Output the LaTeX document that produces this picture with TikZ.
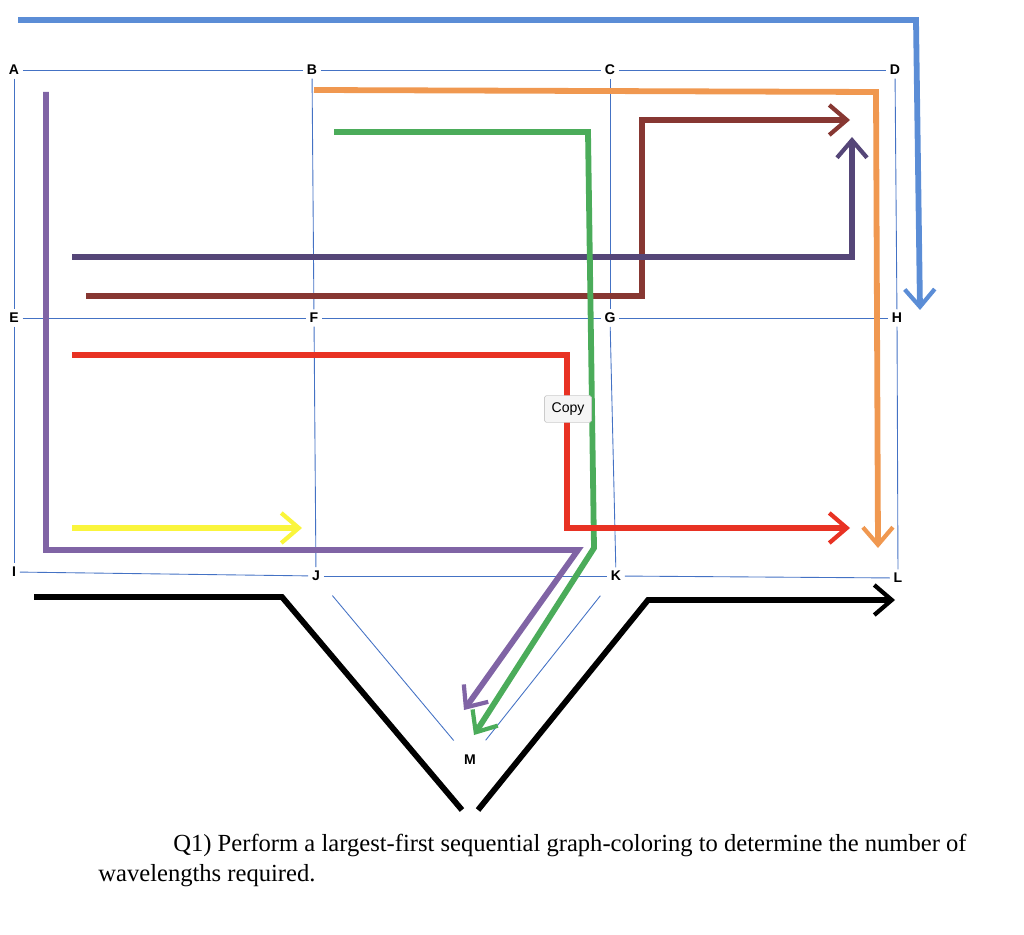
\documentclass[tikz,border=0pt]{standalone}
\usepackage{fontspec}
\setmainfont{Liberation Serif}
\newfontfamily\lblfont{Liberation Sans}
\usetikzlibrary{arrows.meta}
\definecolor{linkblue}{RGB}{68,114,196}
\definecolor{topblue}{RGB}{91,141,214}
\definecolor{routeorange}{RGB}{240,152,80}
\definecolor{routebrown}{RGB}{135,55,50}
\definecolor{routedpurple}{RGB}{85,70,120}
\definecolor{routegreen}{RGB}{75,172,90}
\definecolor{routered}{RGB}{232,50,35}
\definecolor{routeyellow}{RGB}{250,245,60}
\definecolor{routepurple}{RGB}{128,100,165}
\tikzset{
  site/.style={fill=white,inner sep=2pt,font=\lblfont\bfseries\footnotesize},
  link/.style={linkblue,line width=0.5pt},
  route/.style={line width=3.3pt,-{Straight Barb[length=3.5mm,width=6mm,line width=2.4pt]}},
}
\begin{document}
\begin{tikzpicture}[x=0.02cm,y=-0.02cm]
  \useasboundingbox (0,0) rectangle (1024,935);
  % Sites
  \node[site] (A) at (14,70) {A};
  \node[site] (B) at (312,70) {B};
  \node[site] (C) at (610,70) {C};
  \node[site] (D) at (895,70) {D};
  \node[site] (E) at (14,318) {E};
  \node[site] (F) at (314,318) {F};
  \node[site] (G) at (610,318) {G};
  \node[site] (H) at (897,318) {H};
  \node[site] (I) at (14,572) {I};
  \node[site] (J) at (316,576) {J};
  \node[site] (K) at (616,576) {K};
  \node[site] (L) at (898,578) {L};
  \node[site] (M) at (470,760) {M};
  % Links
  \foreach \u/\v in {A/B,B/C,C/D,A/E,B/F,C/G,D/H,E/F,F/G,G/H,E/I,F/J,G/K,H/L,I/J,J/K,K/L}
    \draw[link] (\u) -- (\v);
  \draw[link,shorten <=8pt,shorten >=8pt] (J) -- (M);
  \draw[link,shorten <=8pt,shorten >=8pt] (K) -- (M);
  % Routes
  \draw[route,topblue] (18,20) -- (916,20) -- (920,310);
  \draw[route,routeorange] (314,90) -- (876,92) -- (878,548);
  \draw[route,routebrown] (86,296) -- (642,296) -- (642,120) -- (850,120);
  \draw[route,routedpurple] (72,257) -- (852,257) -- (852,137);
  \draw[route,routegreen] (334,132) -- (588,132) -- (594,548) -- (474,735);
  \draw[route,routered] (72,355) -- (567,355) -- (567,528) -- (850,528);
  \draw[route,routeyellow] (72,528) -- (302,528);
  \draw[route,routepurple] (46,92) -- (46,550) -- (578,550) -- (464,710);
  \draw[line width=3.3pt] (34,597) -- (282,597) -- (462,810);
  \draw[route,black] (478,810) -- (648,600) -- (895,600);
  % Copy tag
  \node[draw=gray!40,fill=gray!8,rounded corners=1pt,font=\lblfont\footnotesize,inner sep=4pt] (copy) at (568,409) {Copy};
  % Question
  \node[anchor=north west,align=left,font=\fontsize{14}{17}\selectfont,inner sep=0pt] (q) at (98,834)
    {\hspace*{1.5cm}Q1) Perform a largest-first sequential graph-coloring to determine the number of\\wavelengths required.};
\end{tikzpicture}
\end{document}
